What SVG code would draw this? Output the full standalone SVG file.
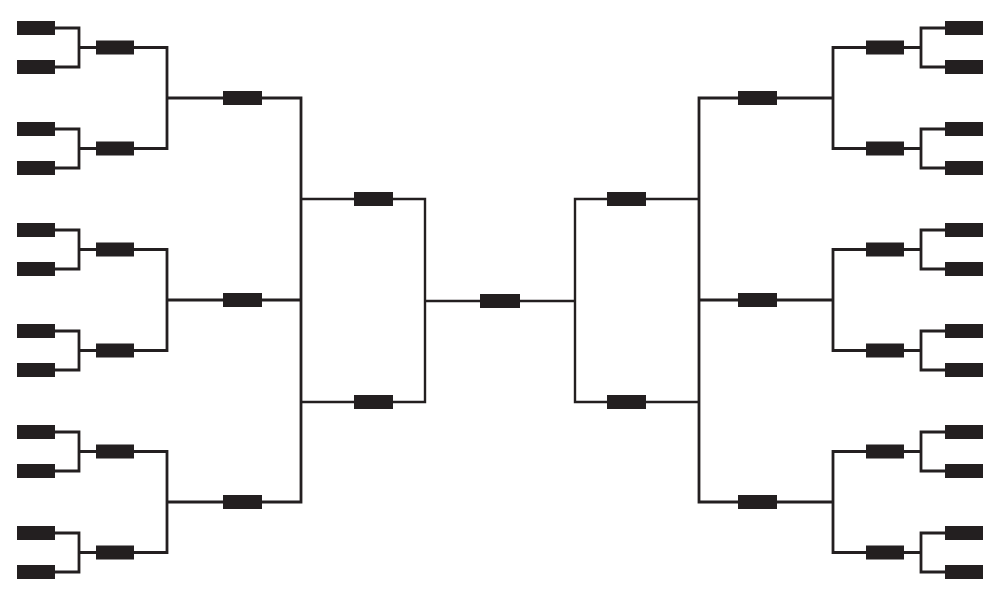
<svg xmlns="http://www.w3.org/2000/svg" width="1000" height="600" viewBox="0 0 1000 600">
<style>
.box{fill:#231f20}
.ln{fill:none;stroke:#231f20;stroke-width:2.8;stroke-linejoin:miter;stroke-linecap:butt}
.lc{fill:none;stroke:#231f20;stroke-width:2.4;stroke-linejoin:miter}
</style>
<rect width="1000" height="600" fill="#ffffff"/>
<g id="connectors">
<!-- left round 1 -->
<path class="ln" d="M55 28H79V67H55M79 47.5H96"/>
<path class="ln" d="M55 129H79V168H55M79 148.5H96"/>
<path class="ln" d="M55 230H79V269H55M79 249.5H96"/>
<path class="ln" d="M55 331H79V370H55M79 350.5H96"/>
<path class="ln" d="M55 432H79V471H55M79 451.5H96"/>
<path class="ln" d="M55 533H79V572H55M79 552.5H96"/>
<!-- left round 2 -->
<path class="ln" d="M134 47.5H167V148.5H134M167 98H223"/>
<path class="ln" d="M134 249.5H167V350.5H134M167 300H223"/>
<path class="ln" d="M134 451.5H167V552.5H134M167 502H223"/>
<!-- left round 3 -->
<path class="ln" d="M262 98H301V502H262M262 300H301"/>
<path class="lc" d="M301 199H354M301 402H354"/>
<path class="lc" d="M393 199H425V402H393M425 301H480"/>
<!-- right round 1 -->
<path class="ln" d="M945 28H921V67H945M921 47.5H904"/>
<path class="ln" d="M945 129H921V168H945M921 148.5H904"/>
<path class="ln" d="M945 230H921V269H945M921 249.5H904"/>
<path class="ln" d="M945 331H921V370H945M921 350.5H904"/>
<path class="ln" d="M945 432H921V471H945M921 451.5H904"/>
<path class="ln" d="M945 533H921V572H945M921 552.5H904"/>
<!-- right round 2 -->
<path class="ln" d="M866 47.5H833V148.5H866M833 98H777"/>
<path class="ln" d="M866 249.5H833V350.5H866M833 300H777"/>
<path class="ln" d="M866 451.5H833V552.5H866M833 502H777"/>
<!-- right round 3 -->
<path class="ln" d="M738 98H699V502H738M738 300H699"/>
<path class="lc" d="M699 199H646M699 402H646"/>
<path class="lc" d="M607 199H575V402H607M575 301H520"/>
</g>
<!-- left round 1 -->
<g id="L1-1"><rect class="box" x="17" y="21" width="38" height="14"/></g>
<g id="L1-2"><rect class="box" x="17" y="60" width="38" height="14"/></g>
<g id="L1-3"><rect class="box" x="17" y="122" width="38" height="14"/></g>
<g id="L1-4"><rect class="box" x="17" y="161" width="38" height="14"/></g>
<g id="L1-5"><rect class="box" x="17" y="223" width="38" height="14"/></g>
<g id="L1-6"><rect class="box" x="17" y="262" width="38" height="14"/></g>
<g id="L1-7"><rect class="box" x="17" y="324" width="38" height="14"/></g>
<g id="L1-8"><rect class="box" x="17" y="363" width="38" height="14"/></g>
<g id="L1-9"><rect class="box" x="17" y="425" width="38" height="14"/></g>
<g id="L1-10"><rect class="box" x="17" y="464" width="38" height="14"/></g>
<g id="L1-11"><rect class="box" x="17" y="526" width="38" height="14"/></g>
<g id="L1-12"><rect class="box" x="17" y="565" width="38" height="14"/></g>
<!-- left round 2 -->
<g id="L2-1"><rect class="box" x="96" y="40.5" width="38" height="14"/></g>
<g id="L2-2"><rect class="box" x="96" y="141.5" width="38" height="14"/></g>
<g id="L2-3"><rect class="box" x="96" y="242.5" width="38" height="14"/></g>
<g id="L2-4"><rect class="box" x="96" y="343.5" width="38" height="14"/></g>
<g id="L2-5"><rect class="box" x="96" y="444.5" width="38" height="14"/></g>
<g id="L2-6"><rect class="box" x="96" y="545.5" width="38" height="14"/></g>
<!-- left round 3 -->
<g id="L3-1"><rect class="box" x="223" y="91" width="39" height="14"/></g>
<g id="L3-2"><rect class="box" x="223" y="293" width="39" height="14"/></g>
<g id="L3-3"><rect class="box" x="223" y="495" width="39" height="14"/></g>
<!-- left semifinals -->
<g id="L4-1"><rect class="box" x="354" y="192" width="39" height="14"/></g>
<g id="L4-2"><rect class="box" x="354" y="395" width="39" height="14"/></g>
<!-- final -->
<g id="final"><rect class="box" x="480" y="294" width="40" height="14"/></g>
<!-- right semifinals -->
<g id="R4-1"><rect class="box" x="607" y="192" width="39" height="14"/></g>
<g id="R4-2"><rect class="box" x="607" y="395" width="39" height="14"/></g>
<!-- right round 3 -->
<g id="R3-1"><rect class="box" x="738" y="91" width="39" height="14"/></g>
<g id="R3-2"><rect class="box" x="738" y="293" width="39" height="14"/></g>
<g id="R3-3"><rect class="box" x="738" y="495" width="39" height="14"/></g>
<!-- right round 2 -->
<g id="R2-1"><rect class="box" x="866" y="40.5" width="38" height="14"/></g>
<g id="R2-2"><rect class="box" x="866" y="141.5" width="38" height="14"/></g>
<g id="R2-3"><rect class="box" x="866" y="242.5" width="38" height="14"/></g>
<g id="R2-4"><rect class="box" x="866" y="343.5" width="38" height="14"/></g>
<g id="R2-5"><rect class="box" x="866" y="444.5" width="38" height="14"/></g>
<g id="R2-6"><rect class="box" x="866" y="545.5" width="38" height="14"/></g>
<!-- right round 1 -->
<g id="R1-1"><rect class="box" x="945" y="21" width="38" height="14"/></g>
<g id="R1-2"><rect class="box" x="945" y="60" width="38" height="14"/></g>
<g id="R1-3"><rect class="box" x="945" y="122" width="38" height="14"/></g>
<g id="R1-4"><rect class="box" x="945" y="161" width="38" height="14"/></g>
<g id="R1-5"><rect class="box" x="945" y="223" width="38" height="14"/></g>
<g id="R1-6"><rect class="box" x="945" y="262" width="38" height="14"/></g>
<g id="R1-7"><rect class="box" x="945" y="324" width="38" height="14"/></g>
<g id="R1-8"><rect class="box" x="945" y="363" width="38" height="14"/></g>
<g id="R1-9"><rect class="box" x="945" y="425" width="38" height="14"/></g>
<g id="R1-10"><rect class="box" x="945" y="464" width="38" height="14"/></g>
<g id="R1-11"><rect class="box" x="945" y="526" width="38" height="14"/></g>
<g id="R1-12"><rect class="box" x="945" y="565" width="38" height="14"/></g>
</svg>
